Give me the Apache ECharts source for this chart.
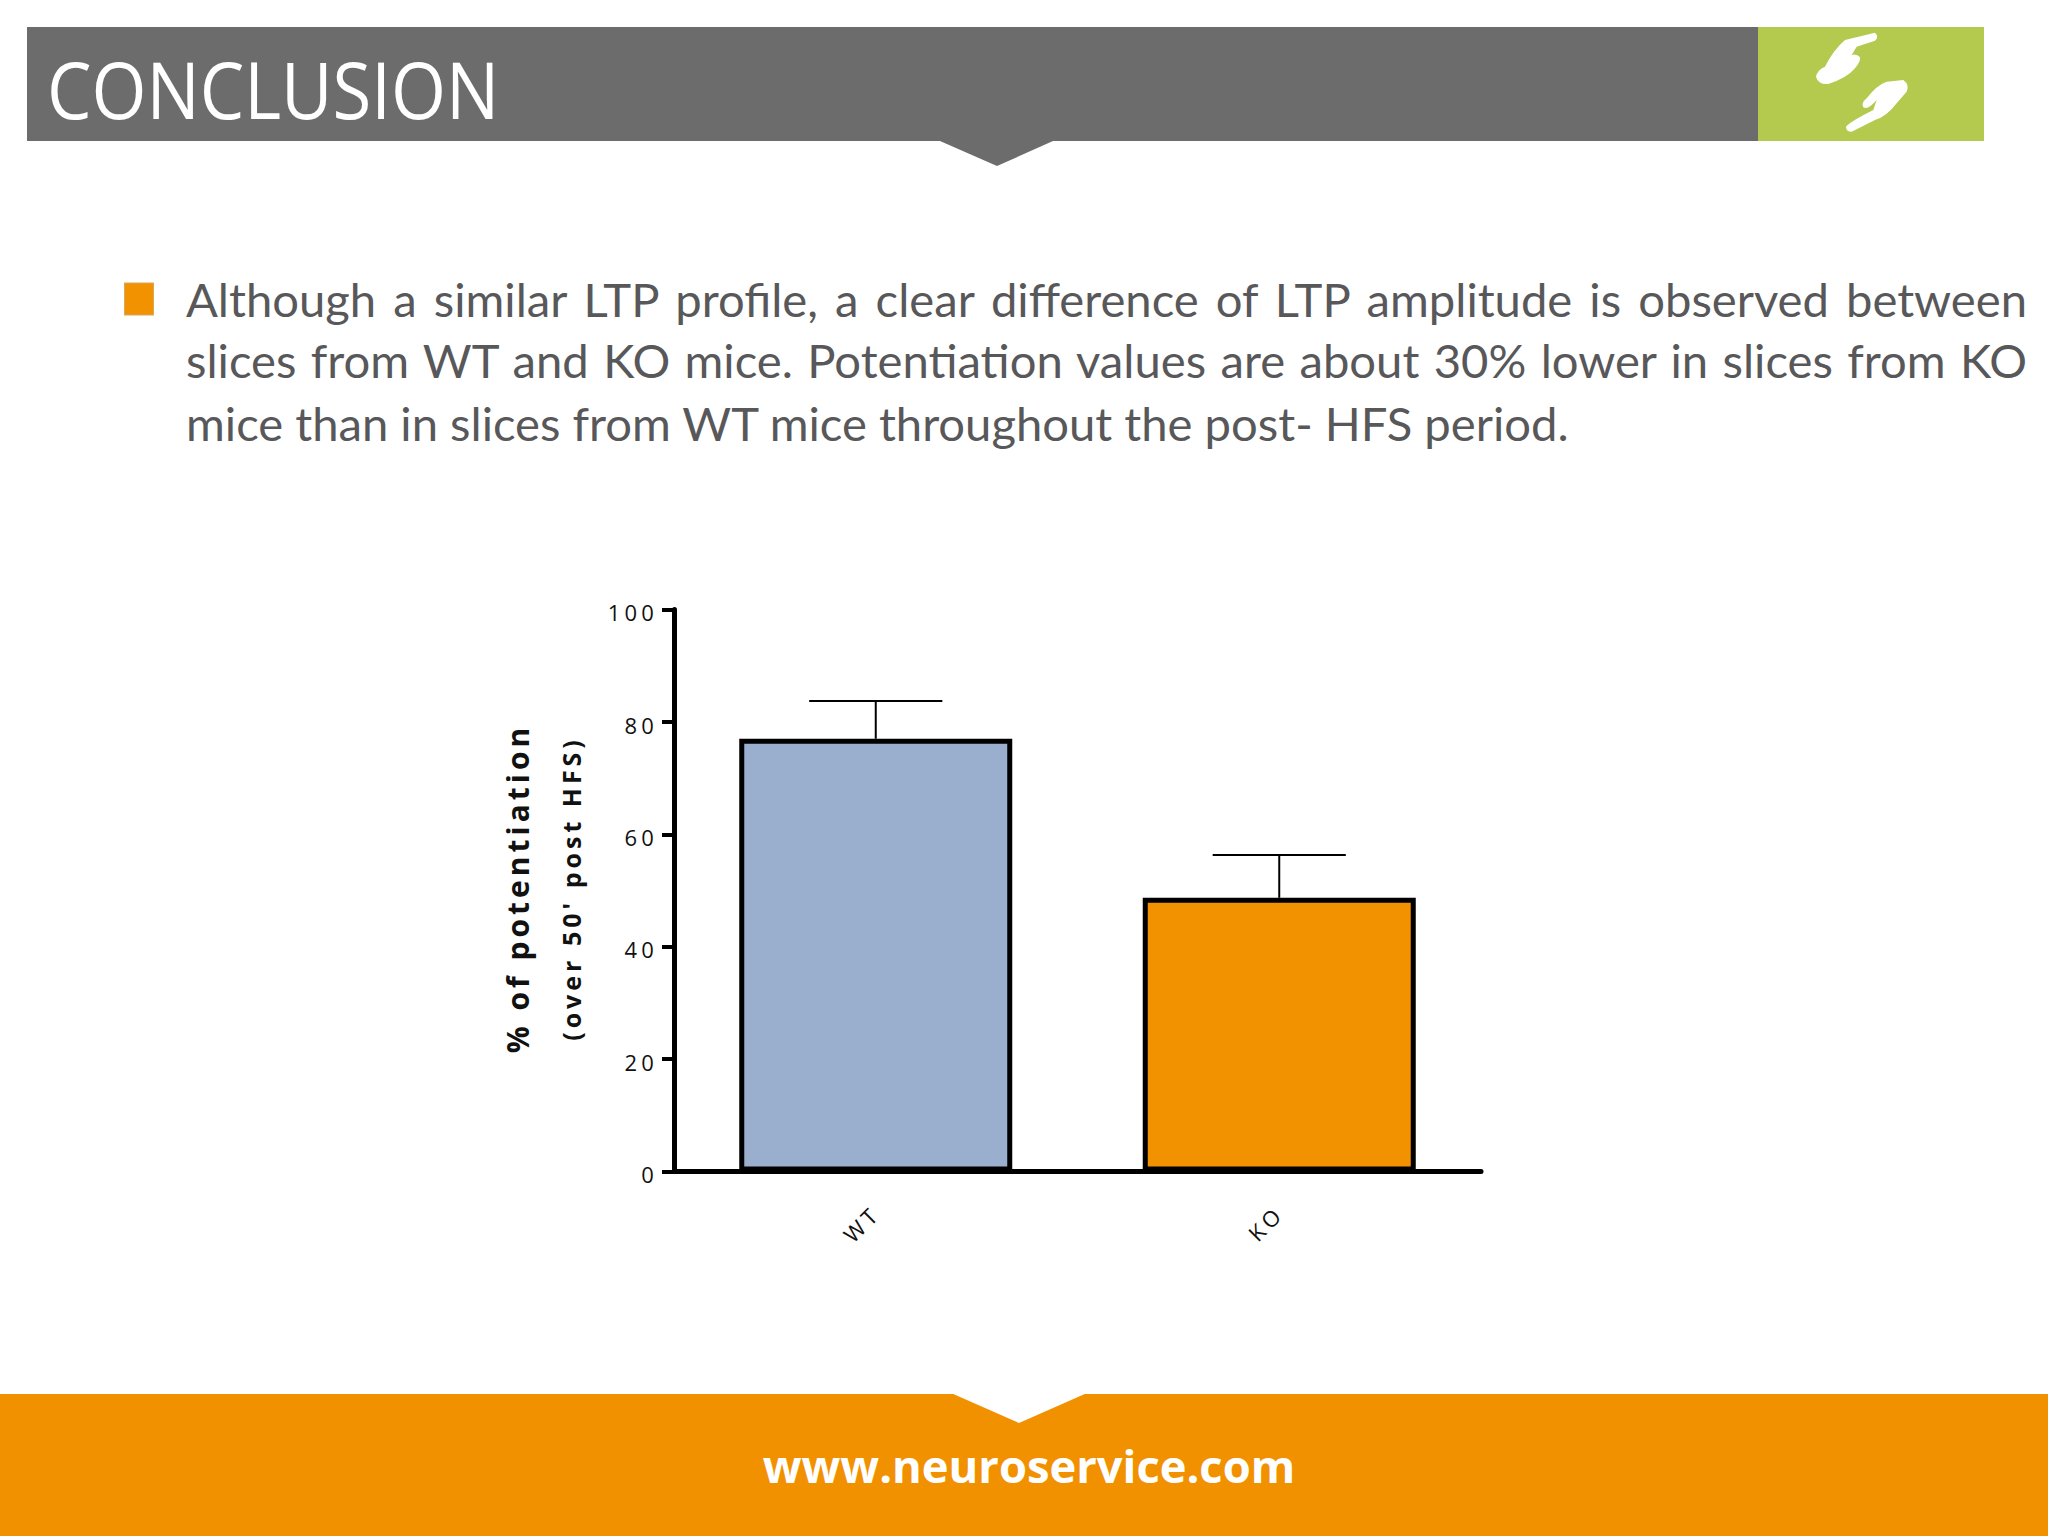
<!DOCTYPE html>
<html>
<head>
<meta charset="utf-8">
<script src="https://cdn.jsdelivr.net/npm/echarts@6/dist/echarts.min.js"></script>
<style>
html,body{margin:0;padding:0;width:2048px;height:1536px;background:#fff;overflow:hidden}
.abs{position:absolute}
#chart{position:absolute;left:0;top:0;width:2048px;height:1536px}
#chart text[style*="22px"]{letter-spacing:4.2px;translate:0 2.6px}
#chart text[style*="30px"]{letter-spacing:4px}
#chart text[style*="25px"]{letter-spacing:4px}
.line{position:absolute;left:186px;width:1841px;font:47.2px Lato,sans-serif;color:#58585a;white-space:nowrap;height:62px;line-height:62px}
.just{text-align:justify;text-align-last:justify;white-space:normal}
</style>
</head>
<body>
<div class="abs" style="left:27px;top:27px;width:1731px;height:114px;background:#6c6c6c"></div>
<div class="abs" style="left:1758px;top:27px;width:226px;height:114px;background:#b3ca4e"></div>
<svg class="abs" style="left:0;top:0" width="2048" height="1536">
  <polygon points="940,141 1053,141 997,166" fill="#6c6c6c"/>
  <rect x="0" y="1394" width="2048" height="142" fill="#f29100"/>
  <polygon points="951,1393 1087,1393 1019,1423" fill="#fff"/>
  <g transform="translate(1740,20) scale(0.3333)" fill="#fff">
    <path d="M405 38Q418 50 405 62L350 80L335 105Q350 100 360 112Q362 125 345 145Q320 175 265 192Q235 195 228 170Q232 150 255 140Q280 90 315 60Z"/>
    <path d="M490 180Q510 195 500 215L470 250Q440 290 405 300L335 335Q318 335 318 320Q330 305 400 270L410 240Q385 270 370 262Q362 250 380 235Q410 195 440 185Z"/>
  </g>
  <rect x="124.5" y="283" width="29" height="32" fill="#f39200" stroke="#d8a860" stroke-width="1"/>
</svg>
<div class="abs" style="left:47px;top:34px;color:#fff;font:78px 'Open Sans',sans-serif;line-height:110px;white-space:nowrap;transform-origin:0 50%;transform:scaleX(0.906)">CONCLUSION</div>
<div class="line just" style="top:268px">Although a similar LTP profile, a clear difference of LTP amplitude is observed between</div>
<div class="line just" style="top:329px">slices from WT and KO mice. Potentiation values are about 30% lower in slices from KO</div>
<div class="line" style="top:392px">mice than in slices from WT mice throughout the post- HFS period.</div>
<div class="abs" style="left:729px;top:1434px;width:600px;text-align:center;color:#fff;font:bold 45.3px 'Open Sans',sans-serif;line-height:64px;white-space:nowrap">www.neuroservice.com</div>
<div id="chart"></div>
<script>
const categories = ['WT', 'KO'];
const meanValues = [77.0, 48.7];
const errorTops = [83.7, 56.3];
const yTicks = [0, 20, 40, 60, 80, 100];
const yTitle = '% of potentiation';
const ySubtitle = "(over 50' post HFS)";

const chart = echarts.init(document.getElementById('chart'), null, {renderer: 'svg', width: 2048, height: 1536});
chart.setOption({
  animation: false,
  backgroundColor: 'transparent',
  textStyle: {fontFamily: "'Open Sans', sans-serif"},
  grid: {left: 674, top: 609.5, width: 807, height: 562, containLabel: false},
  xAxis: {
    type: 'category',
    data: categories,
    axisLine: {lineStyle: {color: '#000', width: 5}},
    axisTick: {alignWithLabel: true, length: 10, lineStyle: {color: '#000', width: 4}},
    axisLabel: {rotate: 45, margin: 35, fontSize: 22, color: '#111', fontFamily: "'Open Sans', sans-serif"}
  },
  yAxis: {
    type: 'value',
    min: yTicks[0],
    max: yTicks[yTicks.length - 1],
    interval: yTicks[1] - yTicks[0],
    splitLine: {show: false},
    axisLine: {show: true, lineStyle: {color: '#000', width: 5}},
    axisTick: {show: true, length: 12, lineStyle: {color: '#000', width: 4}},
    axisLabel: {margin: 16, fontSize: 22, color: '#111', fontFamily: "'Open Sans', sans-serif"},
    name: '{a|' + yTitle + '}\n{b|' + ySubtitle + '}',
    nameLocation: 'middle',
    nameGap: 76,
    nameTextStyle: {
      padding: [0, 0, 0, 4],
      rich: {
        a: {fontSize: 30, fontWeight: 'bold', color: '#111', lineHeight: 54, fontFamily: "'Open Sans', sans-serif"},
        b: {fontSize: 25, fontWeight: 'bold', color: '#111', lineHeight: 54, fontFamily: "'Open Sans', sans-serif"}
      }
    }
  },
  series: [
    {
      type: 'bar',
      data: meanValues,
      barWidth: 273,
      itemStyle: {
        color: p => (p.dataIndex === 0 ? '#9aaece' : '#f39200'),
        borderColor: '#000',
        borderWidth: 5
      },
      z: 3
    },
    {
      type: 'custom',
      data: errorTops.map((top, i) => [i, top, meanValues[i]]),
      encode: {x: 0, y: 1},
      z: 2,
      renderItem: (params, api) => {
        const t = api.coord([api.value(0), api.value(1)]);
        const b = api.coord([api.value(0), api.value(2)]);
        const half = api.size([1, 0])[0] * 0.165;
        const style = {stroke: '#000', lineWidth: 2, fill: null};
        return {type: 'group', children: [
          {type: 'line', shape: {x1: t[0], y1: t[1], x2: b[0], y2: b[1]}, style},
          {type: 'line', shape: {x1: t[0] - half, y1: t[1], x2: t[0] + half, y2: t[1]}, style}
        ]};
      }
    }
  ]
});
</script>
</body>
</html>
